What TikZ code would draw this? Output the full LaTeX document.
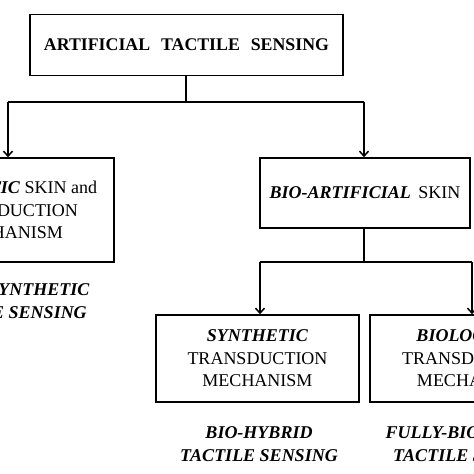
\documentclass[tikz,border=0pt]{standalone}
\usepackage{fontspec}
\setmainfont{Liberation Serif}
\usetikzlibrary{arrows.meta}
\tikzset{
  boxnode/.style={draw, line width=1.5pt, inner sep=0pt, align=center,
    font=\fontsize{18}{22.5}\selectfont},
  labelnode/.style={inner sep=0pt, align=center,
    font=\fontsize{18}{23}\selectfont\bfseries\itshape},
  conn/.style={line width=1.5pt},
  arr/.style={line width=1.5pt, -{Straight Barb[length=5pt,width=9pt,line width=1.5pt]}}
}
\begin{document}
\begin{tikzpicture}[x=1pt,y=-1pt]
\useasboundingbox (0,0) rectangle (474,474);
\clip (0,0) rectangle (474,474);
\fill[white] (0,0) rectangle (474,474);
% top box
\node[boxnode, minimum width=313pt, minimum height=61pt,
      font=\fontsize{17.8}{22}\selectfont\bfseries] (top) at (186.5,45)
  {ARTIFICIAL\hspace{6.5pt} TACTILE\hspace{6.5pt} SENSING};
% second level
\node[boxnode, minimum width=212pt, minimum height=104pt] (left) at (8,210)
  {\textbf{\textit{SYNTHETIC}} SKIN and\\TRANSDUCTION\\MECHANISM};
\node[labelnode] (leftlab) at (8,301) {FULLY-SYNTHETIC\\TACTILE SENSING};
\node[boxnode, minimum width=210pt, minimum height=70pt] (bioart) at (365,193)
  {\textbf{\textit{BIO-ARTIFICIAL}}\hspace{3pt} SKIN};
% third level
\node[boxnode, minimum width=203pt, minimum height=87pt] (synth) at (257.5,358.5)
  {\textbf{\textit{SYNTHETIC}}\\TRANSDUCTION\\MECHANISM};
\node[boxnode, minimum width=204pt, minimum height=87pt] (bio) at (472,358.5)
  {\textbf{\textit{BIOLOGICAL}}\\TRANSDUCTION\\MECHANISM};
\node[labelnode] (synthlab) at (259,444) {BIO-HYBRID\\TACTILE SENSING};
\node[labelnode] (biolab) at (472,444) {FULLY-BIOLOGICAL\\TACTILE SENSING};
% connectors level 1
\coordinate (j1) at (186,102);
\coordinate (j1l) at (8,102);
\coordinate (j1r) at (364,102);
\draw[conn] (top.south -| j1) -- (j1);
\draw[conn] (j1l) -- (j1r);
\draw[arr] (j1l) -- (left.north -| j1l);
\draw[arr] (j1r) -- (bioart.north -| j1r);
% connectors level 2
\coordinate (j2) at (364,262);
\coordinate (j2l) at (260,262);
\coordinate (j2r) at (472,262);
\draw[conn] (bioart.south -| j2) -- (j2);
\draw[conn] (j2l) -- (j2r);
\draw[arr] (j2l) -- (synth.north -| j2l);
\draw[arr] (j2r) -- (bio.north -| j2r);
\end{tikzpicture}
\end{document}
